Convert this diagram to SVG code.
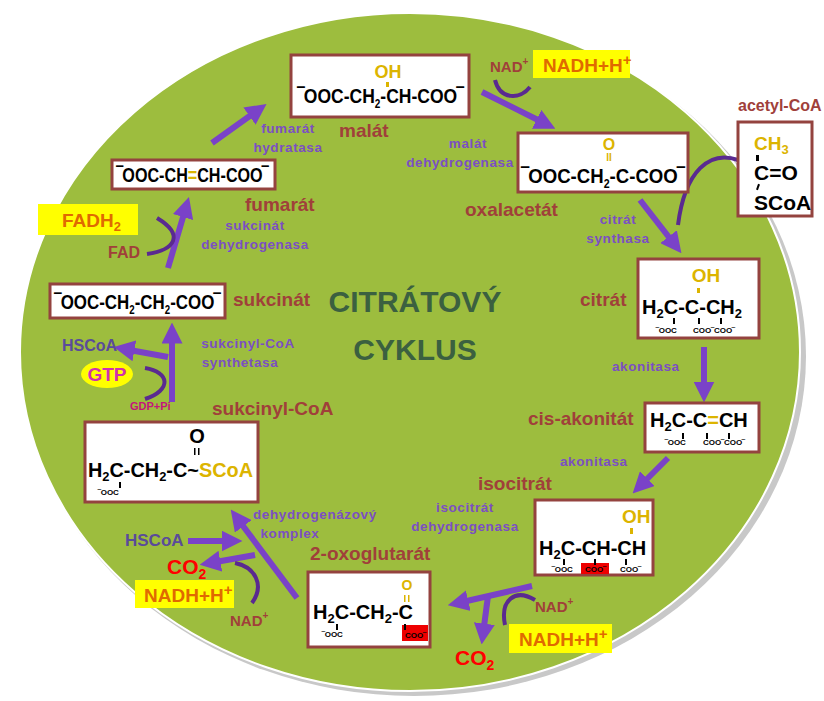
<svg xmlns="http://www.w3.org/2000/svg" width="824" height="701" viewBox="0 0 824 701">
<style>
text{font-family:"Liberation Sans",Arial,sans-serif;font-weight:bold}
.box{fill:#fff;stroke:#94433f;stroke-width:3}
.f{font-size:21px;fill:#000}
.c{font-size:20px;fill:#000}
.s{font-size:8px;fill:#000}
.g{fill:#dcb400}
.n{fill:#a0403a;font-size:19px}
.e{fill:#7b4fc3;font-size:13.5px;letter-spacing:0.6px}
.y{fill:#ffff00}
.o{fill:#e06a00;font-size:19px}
.r{fill:#ff0000;font-size:21px}
.a{stroke:#7a42c8;stroke-width:6;fill:none}
.cv{stroke:#5a2a90;stroke-width:4;fill:none}
</style>
<defs>
<marker id="h" viewBox="0 0 10 10" refX="5" refY="5" markerWidth="3.5" markerHeight="3.5" orient="auto"><path d="M0,0L10,5L0,10z" fill="#7a42c8"/></marker>
</defs>
<ellipse cx="414" cy="356" rx="392" ry="340" fill="#c8c8c8"/>
<ellipse cx="410" cy="352" rx="390" ry="339" fill="#9dbd3e" stroke="#fff" stroke-width="2"/>
<text x="415" y="312" font-size="30" fill="#3b6040" text-anchor="middle">CITRÁTOVÝ</text>
<text x="415" y="360" font-size="30" fill="#3b6040" text-anchor="middle">CYKLUS</text>
<g id="connectors">
<path class="a" d="M212,143L258,110" marker-end="url(#h)"/>
<path class="a" d="M482,92L546,124" marker-end="url(#h)"/>
<path class="a" d="M640,200L675,245" marker-end="url(#h)"/>
<path class="cv" d="M738,160C710,150 685,170 678,225"/>
<path class="a" d="M704,347L704,392" marker-end="url(#h)"/>
<path class="a" d="M668,458L640,486" marker-end="url(#h)"/>
<path class="a" d="M532,586L458,603" marker-end="url(#h)"/>
<path class="a" d="M488,596L483,634" marker-end="url(#h)" stroke-width="4"/>
<path class="cv" d="M535,600C515,588 500,600 505,625"/>
<path class="a" d="M297,598L237,518" marker-end="url(#h)"/>
<path class="a" d="M188,541L232,541" marker-end="url(#h)" stroke-width="4"/>
<path class="a" d="M255,555L210,563" marker-end="url(#h)" stroke-width="4"/>
<path class="cv" d="M252,603C265,585 255,567 235,563"/>
<path class="a" d="M172,402L172,333" marker-end="url(#h)"/>
<path class="a" d="M168,357L124,349" marker-end="url(#h)" stroke-width="4"/>
<path class="cv" d="M145,399C172,390 170,372 145,368"/>
<path class="a" d="M168,268L186,207" marker-end="url(#h)"/>
<path class="cv" d="M147,254C175,250 185,235 157,218"/>
<path class="cv" d="M495,80C500,100 520,100 530,87"/>
</g>
<g id="malat"><rect class="box" x="291" y="55" width="178" height="62"/>
<text x="388" y="78" class="g" font-size="18" text-anchor="middle">OH</text><rect x="386" y="82" width="3" height="5" fill="#dcb400"/>
<text x="298" y="103" class="f" textLength="165" lengthAdjust="spacingAndGlyphs">‾OOC-CH<tspan font-size="12" dy="5">2</tspan><tspan dy="-5">-CH-COO‾</tspan></text></g>
<text x="339" y="137" class="n">malát</text>
<text x="468" y="148" class="e" text-anchor="middle">malát</text>
<text x="460" y="167" class="e" text-anchor="middle">dehydrogenasa</text>
<text x="288" y="133" class="e" text-anchor="middle">fumarát</text>
<text x="288" y="152" class="e" text-anchor="middle">hydratasa</text>
<g id="nad1"><text x="490" y="72" font-size="15" fill="#a0403a">NAD<tspan font-size="10" dy="-7">+</tspan></text>
<rect x="533" y="50" width="97" height="28" class="y"/><text x="543" y="72" class="o">NADH+H<tspan font-size="15" dy="-7">+</tspan></text></g>
<g id="oxalacetat"><rect class="box" x="518" y="133" width="170" height="59"/>
<text x="609" y="150" class="g" font-size="16" text-anchor="middle">O</text><text x="609" y="161" class="g" font-size="10" text-anchor="middle">II</text>
<text x="522" y="183" class="f" textLength="162" lengthAdjust="spacingAndGlyphs">‾OOC-CH<tspan font-size="12" dy="5">2</tspan><tspan dy="-5">-C-COO‾</tspan></text></g>
<text x="465" y="216" class="n">oxalacetát</text>
<text x="618" y="224" class="e" text-anchor="middle">citrát</text>
<text x="618" y="243" class="e" text-anchor="middle">synthasa</text>
<text x="738" y="111" font-size="16" fill="#a0403a">acetyl-CoA</text>
<g id="acetylcoa"><rect class="box" x="738" y="122" width="74" height="94"/>
<text x="754" y="150" class="g" font-size="19">CH<tspan font-size="13" dy="4">3</tspan></text>
<rect x="756" y="155" width="3" height="6" fill="#000"/>
<text x="754" y="180" class="f" font-size="19">C=O</text>
<rect x="757" y="184" width="2" height="6" fill="#000" transform="rotate(20 758 187)"/>
<text x="754" y="210" class="f" font-size="19">SCoA</text></g>
<g id="citrat"><rect class="box" x="638" y="259" width="121" height="79"/>
<text x="706" y="282" class="g" font-size="19" text-anchor="middle">OH</text><rect x="697" y="288" width="3" height="5" fill="#dcb400"/>
<text x="642" y="314" class="c">H<tspan font-size="13" dy="4">2</tspan><tspan dy="-4">C-C-CH</tspan><tspan font-size="13" dy="4">2</tspan></text>
<rect x="673" y="318" width="2" height="6" fill="#000"/><rect x="698" y="318" width="2" height="6" fill="#000"/><rect x="720" y="318" width="2" height="6" fill="#000"/>
<text x="656" y="333" class="s">‾OOC</text><text x="693" y="333" class="s">COO‾COO‾</text></g>
<text x="580" y="306" class="n">citrát</text>
<text x="612" y="371" class="e">akonitasa</text>
<g id="cisakonitat"><rect class="box" x="645" y="403" width="114" height="49"/>
<text x="650" y="427" class="c">H<tspan font-size="13" dy="4">2</tspan><tspan dy="-4">C-C</tspan><tspan fill="#dcb400">=</tspan>CH</text>
<rect x="682" y="433" width="2" height="6" fill="#000"/><rect x="706" y="433" width="2" height="6" fill="#000"/><rect x="728" y="433" width="2" height="6" fill="#000"/>
<text x="665" y="445" class="s">‾OOC</text><text x="703" y="445" class="s">COO‾COO‾</text></g>
<text x="528" y="425" class="n" font-size="20">cis-akonitát</text>
<text x="560" y="466" class="e">akonitasa</text>
<text x="478" y="490" class="n" font-size="20">isocitrát</text>
<text x="465" y="512" class="e" text-anchor="middle">isocitrát</text>
<text x="465" y="531" class="e" text-anchor="middle">dehydrogenasa</text>
<g id="isocitrat"><rect class="box" x="535" y="500" width="118" height="75"/>
<text x="622" y="523" class="g" font-size="19">OH</text><rect x="630" y="528" width="3" height="6" fill="#dcb400"/>
<text x="539" y="555" class="c">H<tspan font-size="13" dy="4">2</tspan><tspan dy="-4">C-CH-CH</tspan></text>
<rect x="581" y="563" width="28" height="11" fill="#ee0000"/>
<rect x="563" y="559" width="2" height="6" fill="#000"/><rect x="594" y="559" width="2" height="6" fill="#000"/><rect x="625" y="559" width="2" height="6" fill="#000"/>
<text x="552" y="572" class="s">‾OOC</text><text x="585" y="572" class="s">COO‾</text><text x="620" y="572" class="s">COO‾</text></g>
<text x="535" y="612" font-size="15" fill="#a0403a">NAD<tspan font-size="10" dy="-7">+</tspan></text>
<rect x="509" y="624" width="103" height="29" class="y"/><text x="519" y="646" class="o">NADH+H<tspan font-size="15" dy="-7">+</tspan></text>
<text x="455" y="665" class="r">CO<tspan font-size="14" dy="5">2</tspan></text>
<text x="310" y="560" class="n">2-oxoglutarát</text>
<g id="oxoglutarat"><rect class="box" x="308" y="572" width="122" height="75"/>
<text x="407" y="590" class="g" font-size="14" text-anchor="middle">O</text><rect x="404" y="595" width="1.5" height="7" class="g"/><rect x="408" y="595" width="1.5" height="7" class="g"/>
<text x="313" y="619" class="c">H<tspan font-size="13" dy="4">2</tspan><tspan dy="-4">C-CH</tspan><tspan font-size="13" dy="4">2</tspan><tspan dy="-4">-C</tspan></text>
<rect x="402" y="625" width="26" height="16" fill="#ee0000"/>
<rect x="336" y="624" width="2" height="6" fill="#000"/><rect x="404" y="624" width="2" height="6" fill="#000"/>
<text x="322" y="637" class="s">‾OOC</text><text x="405" y="638" class="s">COO‾</text></g>
<text x="253" y="519" class="e">dehydrogenázový</text>
<text x="290" y="538" class="e" text-anchor="middle">komplex</text>
<text x="125" y="546" font-size="17" fill="#5a4b9a">HSCoA</text>
<text x="167" y="574" class="r">CO<tspan font-size="14" dy="5">2</tspan></text>
<rect x="135" y="580" width="99" height="28" class="y"/><text x="144" y="602" class="o">NADH+H<tspan font-size="15" dy="-7">+</tspan></text>
<text x="230" y="626" font-size="15" fill="#a0403a">NAD<tspan font-size="10" dy="-7">+</tspan></text>
<text x="212" y="415" class="n" font-size="20">sukcinyl-CoA</text>
<g id="sukcinylcoa"><rect class="box" x="85" y="422" width="173" height="80"/>
<text x="197" y="443" class="c" text-anchor="middle">O</text><rect x="194" y="448" width="1.5" height="7" fill="#000"/><rect x="198" y="448" width="1.5" height="7" fill="#000"/>
<text x="88" y="477" class="c" textLength="165" lengthAdjust="spacingAndGlyphs">H<tspan font-size="13" dy="4">2</tspan><tspan dy="-4">C-CH</tspan><tspan font-size="13" dy="4">2</tspan><tspan dy="-4">-C~</tspan><tspan fill="#dcb400">SCoA</tspan></text>
<rect x="119" y="482" width="2" height="6" fill="#000"/>
<text x="98" y="495" class="s">‾OOC</text></g>
<text x="130" y="410" font-size="11" fill="#c4147c">GDP+Pi</text>
<ellipse cx="107" cy="374" rx="26" ry="14" fill="#ffff00"/><text x="107" y="381" text-anchor="middle" font-size="19" fill="#d030b0">GTP</text>
<text x="62" y="351" font-size="16" fill="#5a4b9a">HSCoA</text>
<text x="248" y="348" class="e" text-anchor="middle">sukcinyl-CoA</text>
<text x="240" y="367" class="e" text-anchor="middle">synthetasa</text>
<g id="sukcinat"><rect class="box" x="50" y="284" width="175" height="34"/>
<text x="55" y="309" class="f" textLength="165" lengthAdjust="spacingAndGlyphs">‾OOC-CH<tspan font-size="12" dy="5">2</tspan><tspan dy="-5">-CH</tspan><tspan font-size="12" dy="5">2</tspan><tspan dy="-5">-COO‾</tspan></text></g>
<text x="233" y="306" class="n">sukcinát</text>
<text x="108" y="258" font-size="16" fill="#a0403a">FAD</text>
<rect x="38" y="204" width="100" height="31" class="y"/><text x="62" y="227" class="o">FADH<tspan font-size="13" dy="4">2</tspan></text>
<text x="255" y="230" class="e" text-anchor="middle">sukcinát</text>
<text x="255" y="249" class="e" text-anchor="middle">dehydrogenasa</text>
<g id="fumarat"><rect class="box" x="112" y="160" width="163" height="29"/>
<text x="117" y="182" class="f" textLength="151" lengthAdjust="spacingAndGlyphs">‾OOC-CH<tspan fill="#dcb400">=</tspan>CH-COO‾</text></g>
<text x="245" y="211" class="n">fumarát</text>
</svg>
